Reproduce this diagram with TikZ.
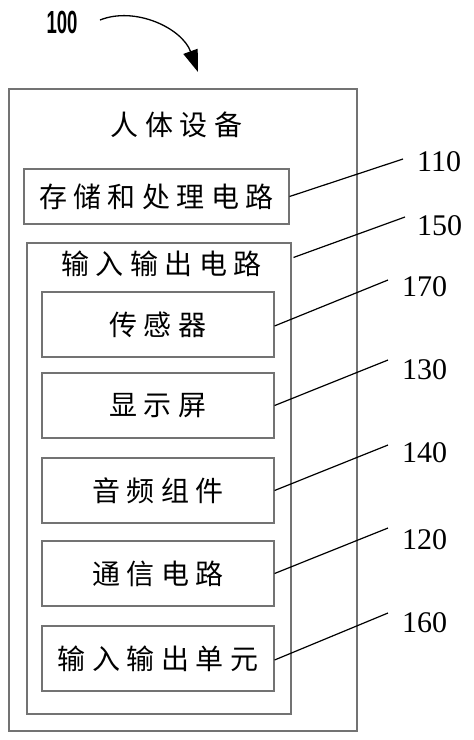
\documentclass[tikz,border=0pt]{standalone}
\usepackage{fontspec}
\setmainfont{Liberation Serif}
\newfontfamily\cjk{Noto Sans CJK SC}
\newfontfamily\numsans{Liberation Sans}
\usetikzlibrary{arrows.meta,calc}
\makeatletter
\newcommand\spc[1]{\def\sp@first{1}\@tfor\sp@c:=#1\do{\ifnum\sp@first=1 \def\sp@first{0}\else\hspace{6.5pt}\fi\sp@c}}
\makeatother
\definecolor{boxgray}{gray}{0.45}
\tikzset{
  box/.style={draw=boxgray, line width=1.1pt, inner sep=0pt},
  cn/.style={font=\cjk\fontsize{28pt}{30pt}\selectfont, inner sep=0pt},
  num/.style={font=\fontsize{30pt}{32pt}\selectfont, inner sep=0pt, anchor=west},
  lead/.style={draw=black, line width=1.2pt},
}
\begin{document}
\begin{tikzpicture}[x=1pt,y=-1pt]
\useasboundingbox[fill=white] (0,0) rectangle (474,740);
% reference label and arrow
\node[inner sep=0pt, font=\numsans\bfseries\fontsize{32pt}{34pt}\selectfont] (l100) at (62,22) {\scalebox{0.58}[1]{100}};
\coordinate (a0) at (100,20);
\coordinate (a1) at (198,72);
\draw[line width=1.3pt, -{Triangle[length=22pt,width=15pt]}] (a0) .. controls (135,6) and (182,28) .. (a1);
% outer device box
\node[box, minimum width=348pt, minimum height=642pt] (dev) at (183,410) {};
\node[cn] (tdev) at (176.5,125) {\spc{人体设备}};
% storage & processing
\node[box, cn, minimum width=265pt, minimum height=55pt] (b110) at (156.5,196.5) {\spc{存储和处理电路}};
% io circuit
\node[box, minimum width=264pt, minimum height=471pt] (b150) at (159,478.5) {};
\node[cn] (t150) at (161.5,264) {\spc{输入输出电路}};
% inner boxes
\node[box, cn, minimum width=232pt, minimum height=65pt] (b170) at (158,324.5) {\spc{传感器}};
\node[box, cn, minimum width=232pt, minimum height=65pt] (b130) at (158,405.5) {\spc{显示屏}};
\node[box, cn, minimum width=232pt, minimum height=65pt] (b140) at (158,490.5) {\spc{音频组件}};
\node[box, cn, minimum width=232pt, minimum height=65pt] (b120) at (158,573.5) {\spc{通信电路}};
\node[box, cn, minimum width=232pt, minimum height=65pt] (b160) at (158,658.5) {\spc{输入输出单元}};
% labels
\node[num] (l110) at (417,162) {110};
\node[num] (l150) at (417,226) {150};
\node[num] (l170) at (402,287) {170};
\node[num] (l130) at (402,370) {130};
\node[num] (l140) at (402,453) {140};
\node[num] (l120) at (402,540) {120};
\node[num] (l160) at (402,623) {160};
% leader lines
\draw[lead] (b110.east) -- ($(l110.west)+(-14,-3)$);
\draw[lead] ($(b150.north east)+(2,15)$) -- ($(l150.west)+(-12,-9)$);
\draw[lead] ([yshift=-1.5pt]b170.east) -- ($(l170.west)+(-14,-7)$);
\draw[lead] (b130.east) -- ($(l130.west)+(-14,-10)$);
\draw[lead] (b140.east) -- ($(l140.west)+(-14,-8)$);
\draw[lead] (b120.east) -- ($(l120.west)+(-14,-12)$);
\draw[lead] ([yshift=-1.5pt]b160.east) -- ($(l160.west)+(-14,-10)$);
\end{tikzpicture}
\end{document}
